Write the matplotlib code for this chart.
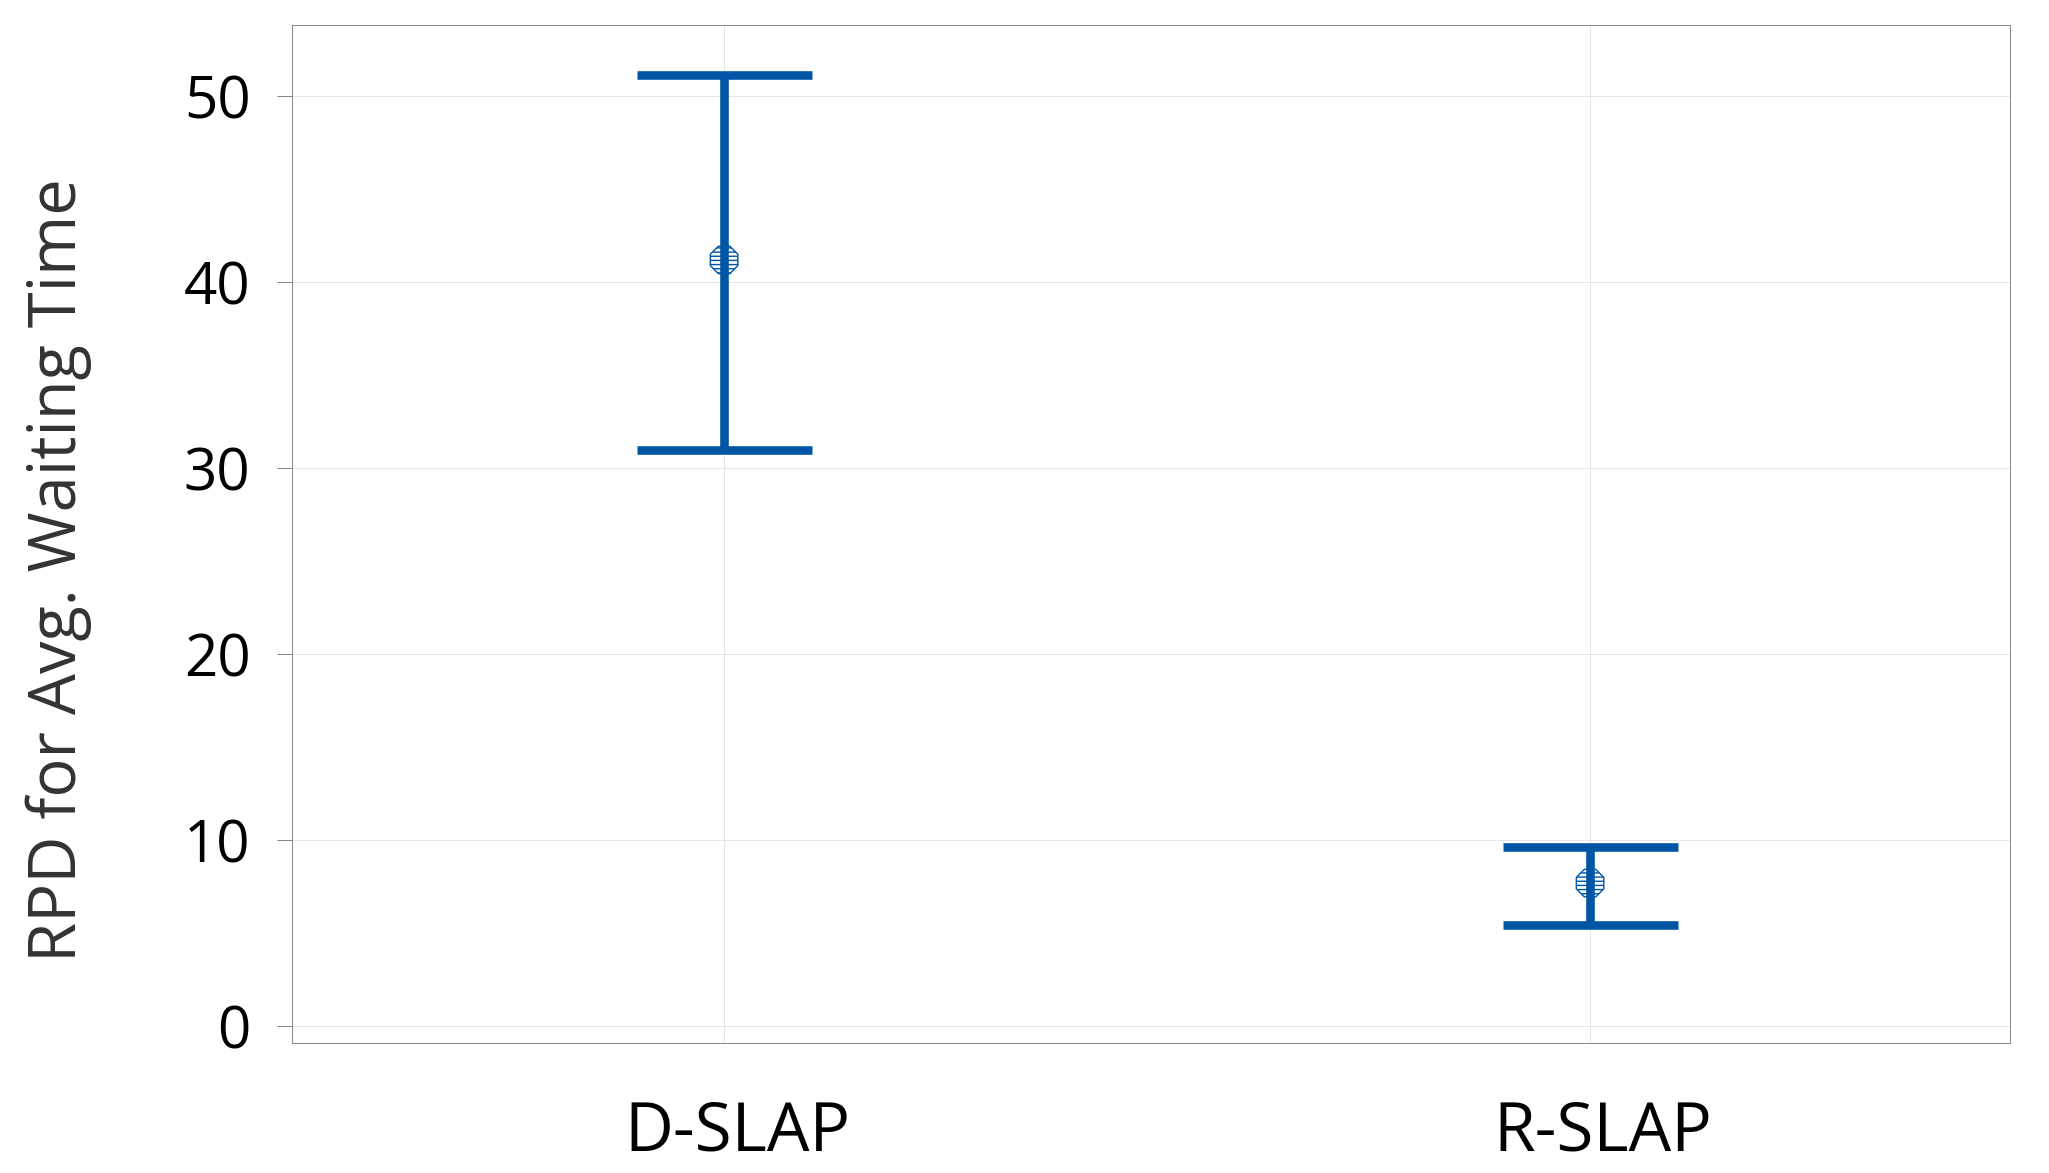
import matplotlib
matplotlib.use('Agg')
import matplotlib.pyplot as plt
import matplotlib.transforms as mtransforms

# data
methods = ['D-SLAP', 'R-SLAP']
means = [41.2, 7.7]
lower = [31.0, 5.45]
upper = [51.15, 9.65]

blue = '#0055a5'
plt.rcParams['font.family'] = ['Open Sans', 'DejaVu Sans']
plt.rcParams['hatch.linewidth'] = 1.0
plt.rcParams['hatch.color'] = blue

fig = plt.figure(figsize=(20.49, 11.73), dpi=100)
ax = fig.add_axes([0.1425, 0.1106, 0.8385, 0.8681])

x = list(range(len(methods)))
err_lo = [m - l for m, l in zip(means, lower)]
err_hi = [u - m for m, u in zip(means, upper)]

# hatched mean markers under the error bars
ax.scatter(x, means, marker='8', s=460, facecolor='white', edgecolor=blue,
           hatch='----', linewidth=1.0, zorder=2)
ax.errorbar(x, means, yerr=[err_lo, err_hi], fmt='none', ecolor=blue,
            elinewidth=6.2, capsize=63, capthick=6.2, zorder=3)

ax.set_xlim(-0.499, 1.485)
ax.set_ylim(-0.91, 53.83)
ax.set_xticks(x)
ax.set_xticklabels(methods, fontsize=48.5)
ax.set_yticks([0, 10, 20, 30, 40, 50])
ax.tick_params(axis='y', labelsize=42, length=10.8, width=0.72, color='#888888', pad=19)
ax.tick_params(axis='x', length=0, pad=40)

# category labels sit a little right of the bars in the original
shift = mtransforms.ScaledTranslation(0.13, 0, fig.dpi_scale_trans)
for lbl in ax.get_xticklabels():
    lbl.set_transform(lbl.get_transform() + shift)

ax.grid(True, color='#e6e6e6', linewidth=0.72, zorder=0)
ax.set_axisbelow(True)
for s in ax.spines.values():
    s.set_color('#888888')
    s.set_linewidth(0.72)

ax.set_ylabel('RPD for Avg. Waiting Time', fontsize=46.8, color='#333333')
ax.yaxis.set_label_coords(-0.136, 0.4646)
ax.yaxis.label.set_va('center')

fig.savefig('out.png', dpi=100, facecolor='white')
